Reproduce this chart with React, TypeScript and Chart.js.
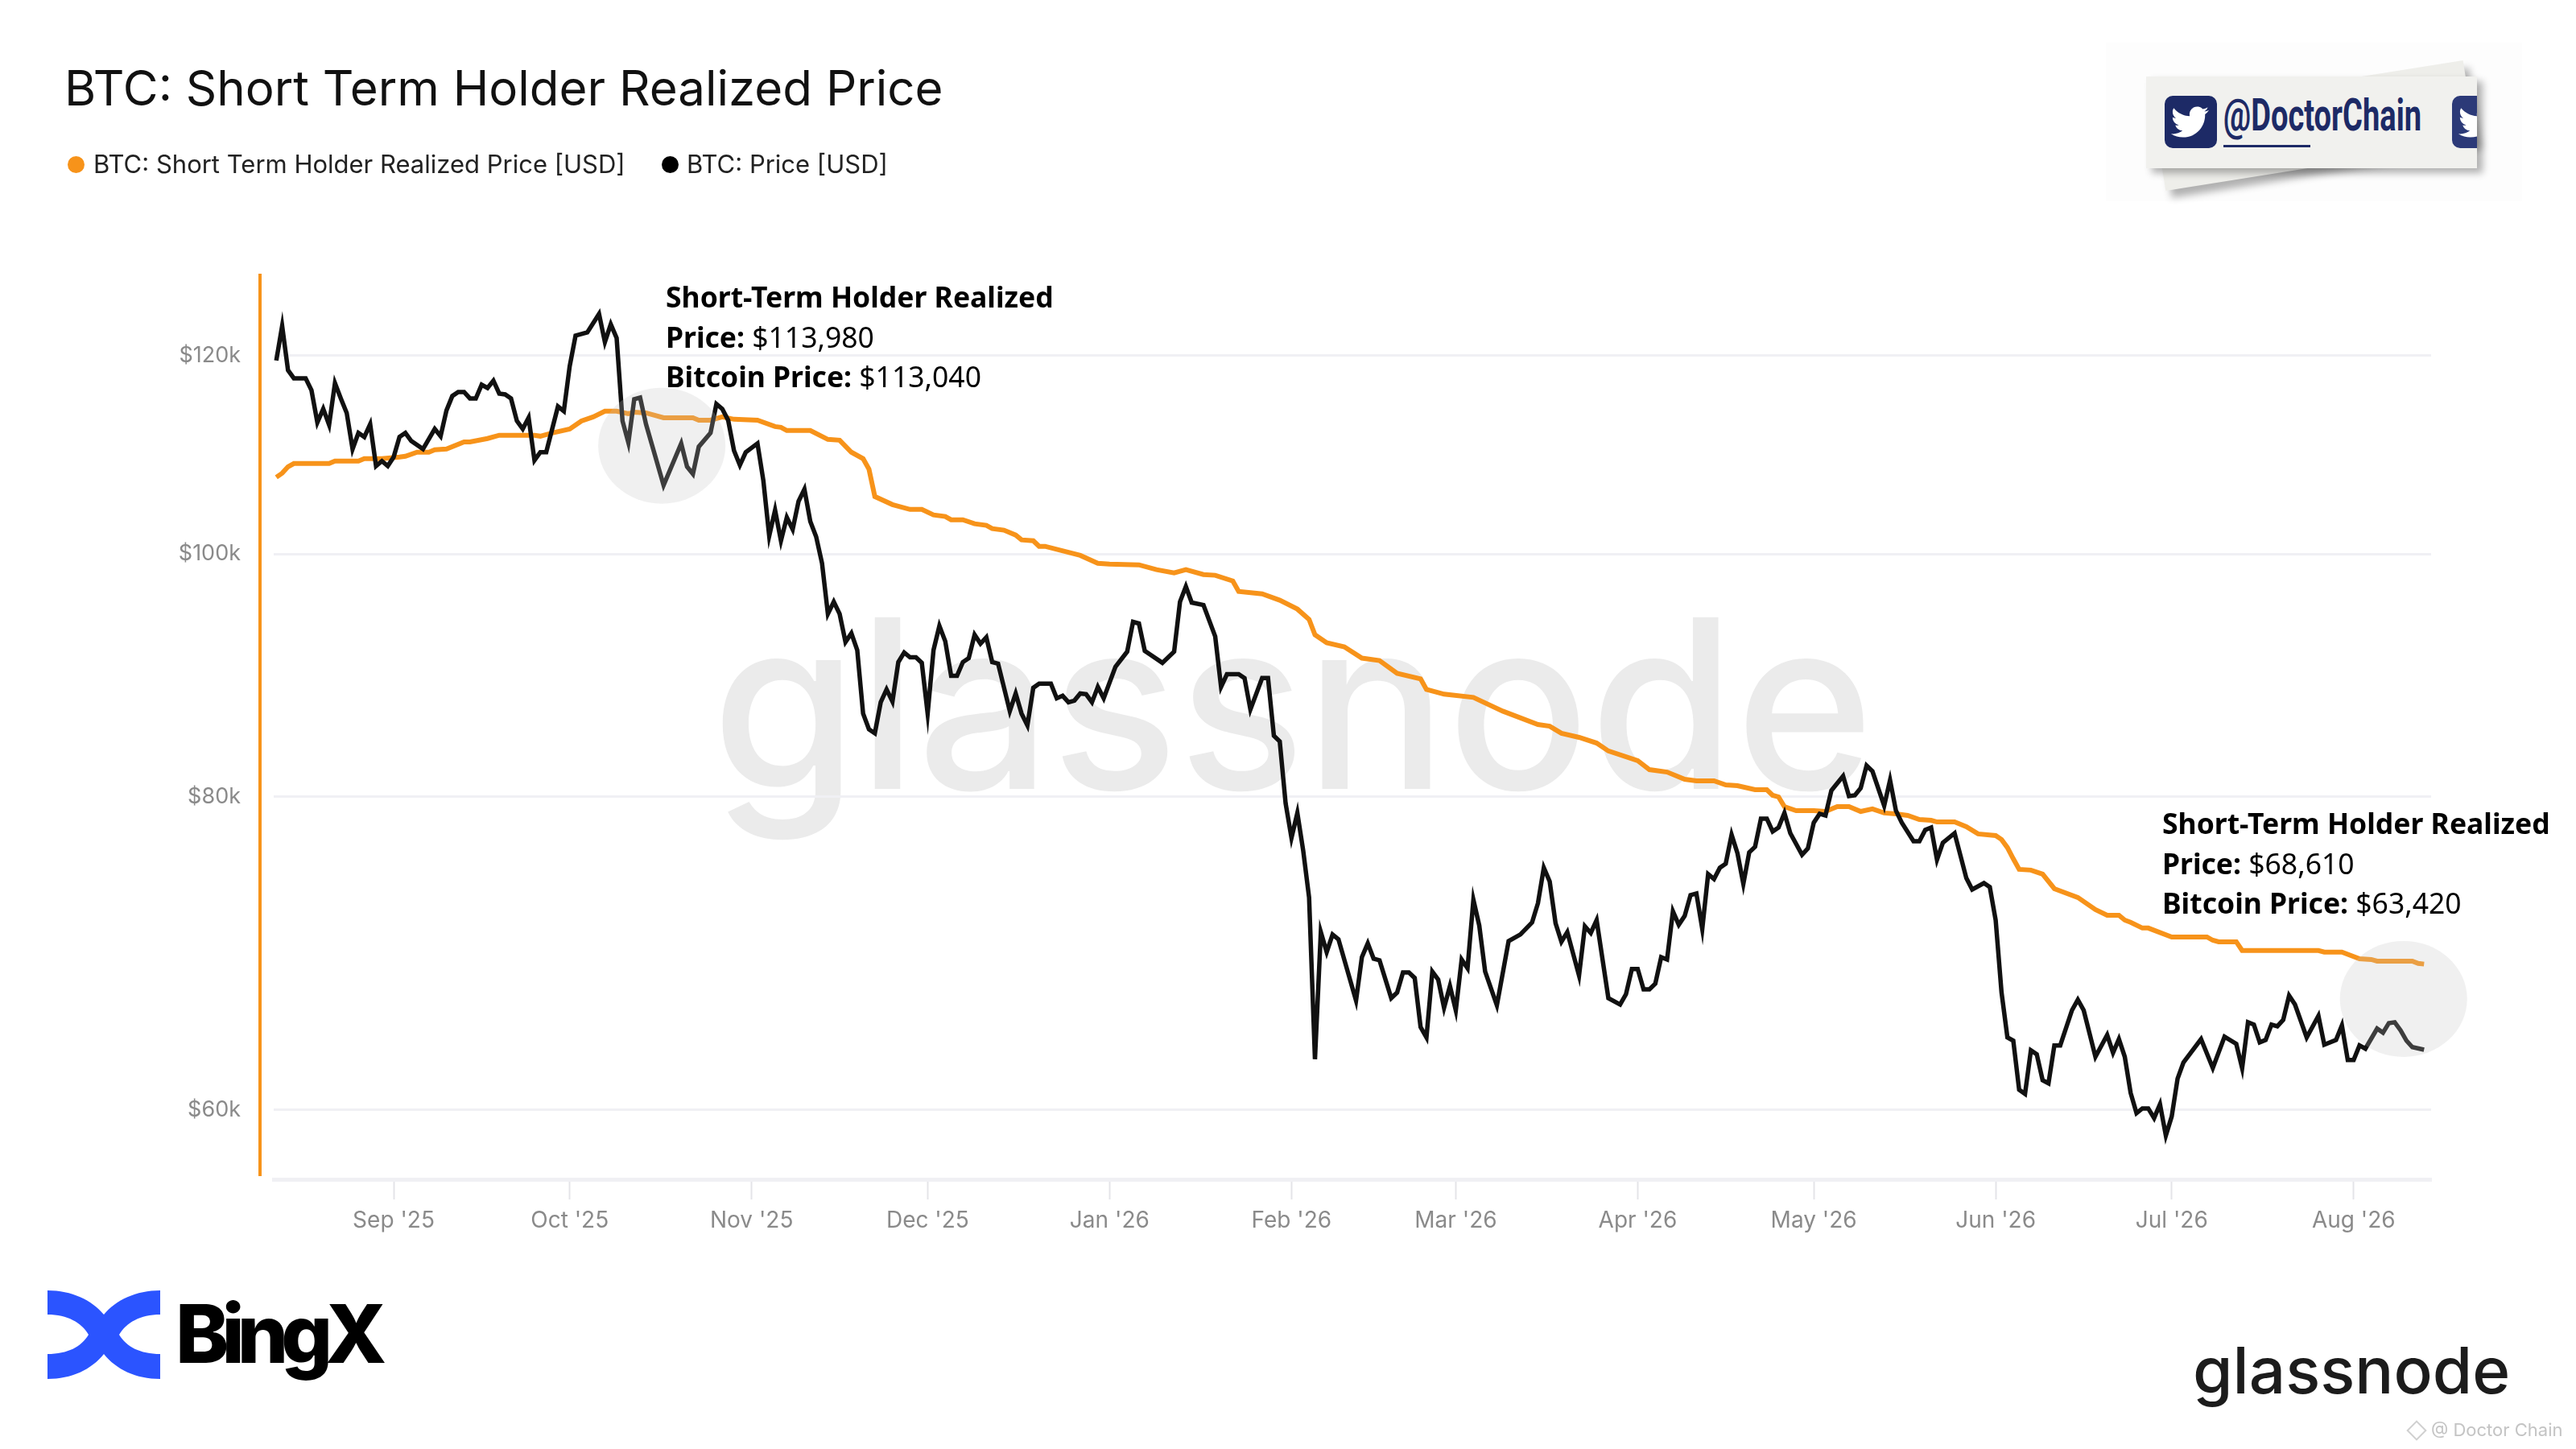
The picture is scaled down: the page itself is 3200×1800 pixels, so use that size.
import { useEffect, useRef } from 'react';
import { Chart, registerables } from 'chart.js';

Chart.register(...registerables);

// days are counted from 1 Sep 2025
const tickDays = [0, 30, 61, 91, 122, 153, 181, 212, 242, 273, 303, 334];
const tickLabels = ["Sep '25", "Oct '25", "Nov '25", "Dec '25", "Jan '26", "Feb '26", "Mar '26", "Apr '26", "May '26", "Jun '26", "Jul '26", "Aug '26"];
const yTicks = [60000, 80000, 100000, 120000];

const priceDays = [
  -20, -19, -18, -17, -15, -14, -13, -12, -11, -10, -9, -8, -7, -6, -5, -4, -3, -2, -1, 0, 1, 2, 3, 5, 7, 8, 9, 10, 11, 12,
  13, 14, 15, 16, 17, 18, 19, 20, 21, 22, 23, 24, 25, 26, 28, 29, 30, 31, 33, 35, 36, 37, 38, 39, 40, 41, 42, 43, 46, 49,
  50, 51, 52, 54, 55, 56, 57, 58, 59, 60, 62, 63, 64, 65, 66, 67, 68, 69, 70, 71, 72, 73, 74, 75, 76, 77, 78, 79, 80, 81,
  82, 83, 84, 85, 86, 87, 88, 89, 90, 91, 92, 93, 94, 95, 96, 97, 98, 99, 100, 101, 102, 103, 105, 106, 107, 108, 109, 110, 112, 113,
  114, 115, 116, 117, 118, 119, 120, 121, 123, 125, 126, 127, 128, 129, 131, 133, 134, 135, 136, 138, 140, 141, 142, 144, 145, 146, 148, 149, 150, 151,
  152, 153, 154, 155, 156, 157, 158, 159, 160, 161, 164, 165, 166, 167, 168, 170, 171, 172, 173, 174, 175, 176, 177, 178, 179, 180, 181, 182, 183, 184,
  185, 186, 188, 190, 192, 194, 195, 196, 197, 198, 199, 200, 202, 203, 204, 205, 207, 209, 210, 211, 212, 213, 214, 215, 216, 217, 218, 219, 220, 221,
  222, 223, 224, 225, 226, 227, 228, 229, 230, 231, 232, 233, 234, 235, 236, 237, 238, 240, 241, 242, 243, 244, 245, 247, 248, 249, 250, 251, 252, 254,
  255, 256, 257, 259, 260, 261, 262, 263, 264, 266, 267, 268, 269, 271, 272, 273, 274, 275, 276, 277, 278, 279, 280, 281, 282, 283, 284, 286, 287, 288,
  290, 292, 293, 294, 295, 296, 297, 298, 299, 300, 301, 302, 303, 304, 305, 308, 310, 312, 314, 315, 316, 317, 318, 319, 320, 321, 322, 323, 324, 326,
  328, 329, 331, 332, 333, 334, 335, 336, 338, 339, 340, 341, 342, 343, 344, 346,
];
const priceValues = [
  119460, 123310, 118400, 117530, 117530, 116230, 112850, 114270, 112600, 117010, 115370, 113850, 110130, 111770, 111360, 112680, 108430, 108920, 108430, 109320, 111360, 111770, 110950, 110130, 112180, 111440, 114100, 115630, 116060, 116060,
  115370, 115370, 116830, 116490, 117270, 115890, 115800, 115370, 113010, 112180, 113340, 109000, 109810, 109810, 114520, 114020, 118840, 122220, 122590, 124690, 121500, 123500, 121950, 113010, 110780, 115290, 115460, 112680, 106530, 110700,
  108350, 107630, 110370, 111770, 114780, 114270, 113090, 109970, 108510, 109810, 110700, 106990, 101680, 104120, 101230, 103430, 102290, 104970, 106140, 103050, 101610, 99160, 94650, 95710, 94650, 92240, 92980, 91560, 86370, 85130,
  84820, 87270, 88310, 87330, 90550, 91350, 90950, 90950, 90490, 86370, 91560, 93610, 92300, 89420, 89420, 90550, 90880, 92850, 92100, 92640, 90550, 90420, 86560, 87980, 86370, 85440, 88440, 88770, 88770, 87590,
  87790, 87270, 87400, 87980, 87920, 87270, 88510, 87590, 90160, 91420, 93960, 93820, 91490, 91150, 90490, 91420, 95710, 97060, 95640, 95430, 92710, 88510, 89550, 89550, 89230, 86690, 89230, 89230, 84630, 84190,
  79530, 77040, 78830, 76140, 72940, 62870, 70660, 69370, 70500, 70190, 66350, 69050, 69930, 68950, 68850, 66500, 66840, 68090, 68090, 67740, 64750, 64140, 68140, 67640, 65910, 67240, 65760, 68900, 68350, 72780,
  71080, 68140, 66060, 70080, 70500, 71290, 72560, 74960, 74020, 71240, 70030, 70660, 67890, 71030, 70600, 71440, 66500, 66110, 66740, 68300, 68300, 67040, 67040, 67390, 69050, 68900, 72020, 71130, 71710, 73100,
  73210, 70870, 74520, 74190, 74960, 75240, 77270, 75970, 73860, 76030, 76420, 78420, 78420, 77500, 77780, 78830, 77380, 75860, 76310, 78130, 78770, 78650, 80470, 81550, 80060, 80120, 80650, 82340, 81910, 79350,
  81250, 79000, 78130, 76810, 76810, 77610, 77780, 75520, 76700, 77380, 75800, 74250, 73480, 73910, 73640, 71440, 66840, 64140, 63950, 61130, 60900, 63380, 63150, 61670, 61490, 63670, 63670, 65760, 66400, 65760,
  63010, 64280, 63240, 64040, 63010, 60950, 59830, 60090, 60090, 59560, 60320, 58610, 59650, 61760, 62680, 64040, 62360, 64180, 63760, 62360, 65040, 64900, 63850, 63990, 64900, 64800, 65180, 66650, 66110, 64140,
  65420, 63710, 63990, 64850, 62820, 62820, 63670, 63480, 64660, 64420, 64990, 65040, 64560, 63950, 63570, 63420,
];

const realizedDays = [
  -20, -19, -18, -17, -11, -10, -6, -5, -2, 1, 2, 4, 6, 7, 9, 12, 13, 16, 18, 24, 25, 27, 30, 32, 34, 36, 38, 40, 41, 43,
  46, 51, 52, 54, 56, 58, 62, 65, 66, 67, 71, 74, 76, 78, 80, 81, 82, 85, 88, 90, 92, 94, 95, 97, 99, 101, 102, 104, 106, 107,
  109, 110, 111, 117, 120, 122, 127, 130, 133, 135, 138, 140, 143, 144, 148, 151, 154, 156, 157, 159, 162, 165, 168, 171, 175, 176, 179, 184, 189, 195,
  197, 199, 202, 205, 207, 212, 214, 217, 220, 222, 225, 227, 229, 232, 234, 235, 236, 237, 239, 242, 244, 246, 248, 250, 252, 254, 256, 258, 260, 262,
  263, 266, 268, 270, 273, 274, 275, 276, 277, 279, 281, 283, 287, 290, 292, 294, 295, 296, 298, 299, 303, 309, 310, 311, 314, 315, 328, 329, 332, 335,
  337, 338, 344, 345, 346,
];
const realizedValues = [
  107310, 107710, 108350, 108670, 108670, 108920, 108920, 109160, 109160, 109320, 109400, 109810, 109810, 110050, 110130, 110860, 110860, 111200, 111530, 111530, 111440, 111770, 112180, 113010, 113430, 114020, 114020, 113760, 113930, 113850,
  113340, 113340, 113090, 113090, 113430, 113180, 113090, 112430, 112350, 112020, 112020, 111110, 111030, 109810, 109160, 108110, 105430, 104650, 104190, 104190, 103660, 103510, 103200, 103200, 102820, 102670, 102370, 102220, 101760, 101310,
  101230, 100710, 100710, 99880, 99160, 99090, 99010, 98580, 98290, 98580, 98140, 98070, 97560, 96630, 96410, 95850, 95070, 94170, 92850, 92170, 91830, 90880, 90680, 89620, 89160, 88310, 87920, 87660, 86560, 85500,
  85370, 84820, 84500, 84060, 83450, 82710, 82030, 81850, 81310, 81190, 81190, 80890, 80830, 80530, 80530, 80120, 80000, 79290, 79000, 79000, 78940, 79290, 79290, 78940, 79120, 78830, 78770, 78650, 78360, 78300,
  78180, 78180, 77840, 77330, 77210, 76930, 76360, 75580, 74850, 74800, 74520, 73530, 72940, 72130, 71760, 71760, 71440, 71290, 70920, 70920, 70340, 70340, 70130, 70030, 70030, 69470, 69470, 69370, 69370, 68950,
  68900, 68800, 68800, 68650, 68610,
];

// the two grey highlight circles
const highlightDays = [45.7, 342.5];
const highlightValues = [110470, 66450];

const ORANGE = '#f7931a';
const GRID = '#f0f0f4';
const TICK_TEXT = '#8a8a8a';
const UI_FONT = 'Inter, sans-serif';
const NOTE_FONT = '"Noto Sans", sans-serif';

const highlightPlugin = {
  id: 'highlights',
  afterDatasetsDraw(chart: any) {
    const { ctx, scales } = chart;
    ctx.save();
    ctx.fillStyle = 'rgba(195, 195, 195, 0.25)';
    highlightDays.forEach((d, i) => {
      ctx.beginPath();
      ctx.ellipse(scales.x.getPixelForValue(d), scales.y.getPixelForValue(highlightValues[i]), 79, 72, 0, 0, Math.PI * 2);
      ctx.fill();
    });
    // orange rule left of the plot
    ctx.fillStyle = ORANGE;
    ctx.fillRect(chart.chartArea.left - 19, chart.chartArea.top, 4, chart.chartArea.bottom - chart.chartArea.top - 4);
    ctx.restore();
  },
};

function Label({ left, top, children, style }: any) {
  return <div style={{ position: 'absolute', left, top, whiteSpace: 'nowrap', ...style }}>{children}</div>;
}

function Note({ left, top, lines }: { left: number; top: number; lines: [string, string][] }) {
  return (
    <Label left={left} top={top} style={{ fontFamily: NOTE_FONT, fontSize: 35.5, lineHeight: '49.5px', color: '#000' }}>
      {lines.map(([bold, rest]) => (
        <div key={bold}>
          <b>{bold}</b> {rest}
        </div>
      ))}
    </Label>
  );
}

const BIRD = 'M23.953 4.57a10 10 0 01-2.825.775 4.958 4.958 0 002.163-2.723c-.951.555-2.005.959-3.127 1.184a4.92 4.92 0 00-8.384 4.482C7.69 8.095 4.067 6.13 1.64 3.162a4.822 4.822 0 00-.666 2.475c0 1.71.87 3.213 2.188 4.096a4.904 4.904 0 01-2.228-.616v.06a4.923 4.923 0 003.946 4.827 4.996 4.996 0 01-2.212.085 4.936 4.936 0 004.604 3.417 9.867 9.867 0 01-6.102 2.105c-.39 0-.779-.023-1.17-.067a13.995 13.995 0 007.557 2.209c9.053 0 13.998-7.496 13.998-13.985 0-.21 0-.42-.015-.63A9.935 9.935 0 0024 4.59z';

function Sticker() {
  const navy = '#1d2a66';
  return (
    <>
      <div style={{ position: 'absolute', left: 2616, top: 53, width: 517, height: 197, background: '#fdfdfd' }} />
      <div style={{ position: 'absolute', left: 2680, top: 105, width: 390, height: 102, background: '#eeeeea', transform: 'rotate(-9deg)', boxShadow: '6px 10px 10px rgba(0,0,0,0.3)' }} />
      <div style={{ position: 'absolute', left: 2666, top: 95, width: 411, height: 114, background: '#f1f1ee', overflow: 'hidden', boxShadow: '7px 6px 9px rgba(0,0,0,0.3)' }}>
        <div style={{ position: 'absolute', left: 23, top: 24, width: 65, height: 65, borderRadius: 10, background: navy }}>
          <svg viewBox="0 0 24 24" width="47" height="47" style={{ position: 'absolute', left: 8, top: 9 }}>
            <path d={BIRD} fill="#fff" />
          </svg>
        </div>
        <div style={{ position: 'absolute', left: 380, top: 24, width: 65, height: 65, borderRadius: 10, background: '#2c3a78' }}>
          <svg viewBox="0 0 24 24" width="47" height="47" style={{ position: 'absolute', left: 8, top: 9 }}>
            <path d={BIRD} fill="#fff" />
          </svg>
        </div>
        <div style={{ position: 'absolute', left: 96, top: 20, fontFamily: 'Roboto, sans-serif', fontWeight: 700, fontSize: 56, lineHeight: '56px', color: navy, transform: 'scaleX(0.68)', transformOrigin: 'left top', whiteSpace: 'nowrap' }}>
          @DoctorChain
        </div>
        <div style={{ position: 'absolute', left: 96, top: 85, width: 108, height: 3, background: navy }} />
      </div>
    </>
  );
}

export default function App() {
  const canvasRef = useRef<HTMLCanvasElement | null>(null);

  useEffect(() => {
    document.body.style.margin = '0';
    if (!canvasRef.current) return;

    const chart = new Chart(canvasRef.current, {
      type: 'line',
      data: {
        datasets: [
          {
            label: 'BTC: Price [USD]',
            data: priceDays.map((d, i) => ({ x: d, y: priceValues[i] })),
            borderColor: '#111111',
            borderWidth: 5.5,
            pointRadius: 0,
            tension: 0,
            order: 1,
          },
          {
            label: 'BTC: Short Term Holder Realized Price [USD]',
            data: realizedDays.map((d, i) => ({ x: d, y: realizedValues[i] })),
            borderColor: ORANGE,
            borderWidth: 6,
            pointRadius: 0,
            tension: 0,
            order: 2,
          },
        ],
      },
      options: {
        responsive: false,
        animation: false,
        devicePixelRatio: 1,
        layout: { padding: { top: 340, right: 180, left: 0, bottom: 0 } },
        plugins: {
          legend: { display: false },
          title: { display: false },
          tooltip: { enabled: false },
        },
        scales: {
          x: {
            type: 'linear',
            min: -20.44,
            max: 347.2,
            afterFit: (scale: any) => {
              scale.height = 335;
            },
            afterBuildTicks: (scale: any) => {
              scale.ticks = tickDays.map(value => ({ value }));
            },
            border: { color: GRID, width: 5 },
            grid: { drawOnChartArea: false, tickLength: 25, tickColor: '#e4e4e8', tickWidth: 2 },
            ticks: {
              autoSkip: false,
              maxRotation: 0,
              padding: 10,
              color: TICK_TEXT,
              font: { family: UI_FONT, size: 28 },
              callback: (_value: any, index: number) => tickLabels[index],
            },
          },
          y: {
            type: 'logarithmic',
            min: 56300,
            max: 129380,
            afterFit: (scale: any) => {
              scale.width = 340;
            },
            afterBuildTicks: (scale: any) => {
              scale.ticks = yTicks.map(value => ({ value }));
            },
            border: { display: false },
            grid: { color: GRID, lineWidth: 3, drawTicks: false },
            ticks: {
              padding: 41,
              color: TICK_TEXT,
              font: { family: UI_FONT, size: 27 },
              callback: (value: any) => `$${value / 1000}k`,
            },
          },
        },
      },
      plugins: [highlightPlugin],
    } as any);

    return () => chart.destroy();
  }, []);

  return (
    <div style={{ position: 'relative', width: 3200, height: 1800, overflow: 'hidden', background: '#fff' }}>
      <Label left={884} top={726} style={{ fontFamily: UI_FONT, fontWeight: 500, fontSize: 293, lineHeight: '295px', color: '#ebebeb' }}>
        glassnode
      </Label>
      <canvas ref={canvasRef} width={3200} height={1800} style={{ position: 'absolute', left: 0, top: 0 }} />

      <Label left={80} top={79} style={{ fontFamily: UI_FONT, fontSize: 60, lineHeight: '60px', color: '#111' }}>
        BTC: Short Term Holder Realized Price
      </Label>
      <div style={{ position: 'absolute', left: 84, top: 194, width: 21, height: 21, borderRadius: '50%', background: ORANGE }} />
      <Label left={116} top={188} style={{ fontFamily: UI_FONT, fontSize: 31, lineHeight: '31px', color: '#222' }}>
        BTC: Short Term Holder Realized Price [USD]
      </Label>
      <div style={{ position: 'absolute', left: 822, top: 194, width: 21, height: 21, borderRadius: '50%', background: '#000' }} />
      <Label left={853} top={188} style={{ fontFamily: UI_FONT, fontSize: 31, lineHeight: '31px', color: '#222' }}>
        BTC: Price [USD]
      </Label>

      <Note left={827} top={344} lines={[['Short-Term Holder Realized', ''], ['Price:', '$113,980'], ['Bitcoin Price:', '$113,040']]} />
      <Note left={2686} top={998} lines={[['Short-Term Holder Realized', ''], ['Price:', '$68,610'], ['Bitcoin Price:', '$63,420']]} />

      <Sticker />

      <svg viewBox="0 0 140 110" width="140" height="110" style={{ position: 'absolute', left: 59, top: 1603 }}>
        <path d="M0 0 C30 0 55 12 70 30 C85 12 110 0 140 0 V30 C115 30 98 40 89 55 C98 70 115 79 140 79 V110 C110 110 85 98 70 79 C55 98 30 110 0 110 V79 C25 79 42 70 51 55 C42 40 25 30 0 30 Z" fill="#2b54ff" />
      </svg>
      <Label left={218} top={1607} style={{ fontFamily: UI_FONT, fontWeight: 800, fontSize: 100, lineHeight: '100px', letterSpacing: -9, color: '#000' }}>
        BingX
      </Label>

      <Label left={2724} top={1662} style={{ fontFamily: UI_FONT, fontWeight: 500, fontSize: 80, lineHeight: '80px', color: '#1c1c1c' }}>
        glassnode
      </Label>
      <div style={{ position: 'absolute', left: 2993, top: 1768, width: 14, height: 14, border: '2px solid #d0d0d0', transform: 'rotate(45deg)' }} />
      <Label left={3020} top={1763} style={{ fontFamily: UI_FONT, fontSize: 22, lineHeight: '26px', color: '#c4c4c4' }}>
        @ Doctor Chain
      </Label>
    </div>
  );
}
